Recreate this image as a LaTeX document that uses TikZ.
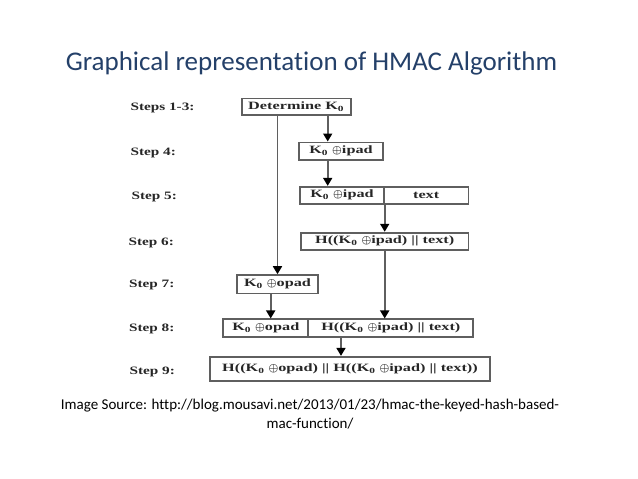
\documentclass[tikz,border=0pt]{standalone}
\usepackage{amsmath}
\usepackage{fontspec}
\usetikzlibrary{arrows.meta}
\setmainfont{Carlito}[Ligatures=NoCommon]
\newfontfamily\diagfont[FakeStretch=1.45]{Liberation Serif}
\newfontfamily\stepfont[FakeStretch=1.35]{Liberation Serif}
\definecolor{titleblue}{RGB}{36,64,105}
\definecolor{boxgray}{RGB}{95,95,95}
\newcommand{\Kz}{K\textsubscript{0}}
\newcommand{\xor}{$\boldsymbol{\oplus}$}

\begin{document}
\begin{tikzpicture}[x=1pt, y=-1pt,
	blk/.style={draw=boxgray, line width=1.7pt, inner sep=0pt, text=black!85,
		font=\diagfont\bfseries\fontsize{11.2}{13}\selectfont},
	lbl/.style={anchor=west, text=black!85, font=\stepfont\bfseries\fontsize{11.3}{13}\selectfont},
	arr/.style={draw=boxgray, line width=1.7pt, -{Triangle[width=9pt, length=8pt, color=black]}}]
	\useasboundingbox (0,0) rectangle (638,479);
	\node[anchor=base, text=titleblue, font=\fontsize{27}{32}\selectfont] (title) at (311.5,70) {Graphical representation of HMAC Algorithm};
	% step labels
	\node[lbl] (s13) at (127,108) {Steps 1-3:};
	\node[lbl] (s4) at (127,153) {Step 4:};
	\node[lbl] (s5) at (128,197) {Step 5:};
	\node[lbl] (s6) at (125,242.5) {Step 6:};
	\node[lbl] (s7) at (125.5,285) {Step 7:};
	\node[lbl] (s8) at (125.5,329) {Step 8:};
	\node[lbl] (s9) at (126,371.5) {Step 9:};
	% boxes
	\node[blk, minimum width=109pt, minimum height=16.7pt] (det) at (296.2,106.7) {Determine \Kz};
	\node[blk, minimum width=83.4pt, minimum height=17.7pt] (ki) at (341,151.2) {\Kz\ \xor ipad};
	\node[blk, minimum width=84pt, minimum height=17pt] (kiL) at (342,195.2) {\Kz\ \xor ipad};
	\node[blk, minimum width=84.3pt, minimum height=17pt] (kiT) at (426.2,195.2) {text};
	\node[blk, minimum width=167.3pt, minimum height=17.3pt] (hi) at (384.7,241.3) {H((\Kz\ \xor ipad) || text)};
	\node[blk, minimum width=81.6pt, minimum height=18.3pt] (ko) at (277.5,284.2) {\Kz\ \xor opad};
	\node[blk, minimum width=85pt, minimum height=17.4pt] (koL) at (265.8,328) {\Kz\ \xor opad};
	\node[blk, minimum width=165pt, minimum height=17.4pt] (hiR) at (390.8,328) {H((\Kz\ \xor ipad) || text)};
	\node[blk, minimum width=280pt, minimum height=24pt] (ho) at (350,368.7) {H((\Kz\ \xor opad) || H((\Kz\ \xor ipad) || text))};
	% connectors
	\coordinate (xa) at (327.7,0);
	\coordinate (xb) at (270.7,0);
	\coordinate (xc) at (341,0);
	\draw[arr] (ko.north |- det.south) -- (ko.north);
	\draw[arr] (det.south -| xa) -- (ki.north -| xa);
	\draw[arr] (ki.south -| xa) -- (kiL.north -| xa);
	\draw[arr] (hi.north |- kiT.south) -- (hi.north);
	\draw[arr] (hi.south) -- (hi.south |- hiR.north);
	\draw[arr] (ko.south -| xb) -- (koL.north -| xb);
	\draw[arr] (hiR.south -| xc) -- (ho.north -| xc);
	\node[align=center, font=\fontsize{15}{19}\selectfont] (src) at (310,414.5) {Image Source: http://blog.mousavi.net/2013/01/23/hmac-the-keyed-hash-based-\\mac-function/};
\end{tikzpicture}
\end{document}
